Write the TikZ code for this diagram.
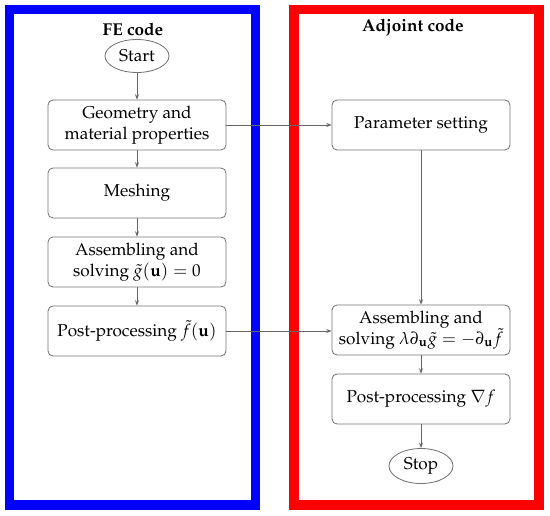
\documentclass[tikz,border=0pt]{standalone}
\usepackage[T1]{fontenc}
\usepackage{mathpazo}
\usetikzlibrary{arrows.meta,shapes.geometric}
\tikzset{
  txt/.style={font=\fontsize{10.3}{12.4}\selectfont},
  proc/.style={txt, draw=black!55, line width=0.5pt, rounded corners=3pt, minimum width=106.8pt, minimum height=30pt, inner sep=1pt, align=center},
  term/.style={txt, draw=black!55, line width=0.5pt, ellipse, minimum width=38.4pt, minimum height=19.8pt, inner sep=0pt},
  conn/.style={draw=black!60, line width=0.45pt, -{Stealth[length=3.2pt,width=2.4pt]}},
  frameA/.style={draw=blue, line width=5.7pt},
  frameB/.style={draw=red, line width=5.7pt}
}
\begin{document}
\begin{tikzpicture}[x=0.6pt,y=-0.6pt]
\useasboundingbox (0,0) rectangle (550,515);
\draw[frameA] (9.5,9.5) rectangle (255.5,505);
\draw[frameB] (294,9.5) rectangle (539,505);
\node[font=\fontsize{10.3}{12.4}\selectfont\bfseries] (t1) at (133,29) {FE code};
\node[font=\fontsize{10.3}{12.4}\selectfont\bfseries] (t2) at (413,27) {Adjoint code};
\node[term] (start) at (137,56) {Start};
\node[proc] (geo) at (137,125) {Geometry and\\material properties};
\node[proc] (mesh) at (137,193) {Meshing};
\node[proc] (asm) at (137,262) {Assembling and\\solving $\tilde{g}(\mathbf{u}) = 0$};
\node[proc] (post) at (137,331) {Post-processing $\tilde{f}(\mathbf{u})$};
\node[proc] (par) at (421,125) {Parameter setting};
\node[proc] (adj) at (421,330) {Assembling and\\solving $\lambda\partial_{\mathbf{u}}\tilde{g} = -\partial_{\mathbf{u}}\tilde{f}$};
\node[proc] (grad) at (421,399) {Post-processing $\nabla f$};
\node[term, minimum height=21pt] (stop) at (421,466) {Stop};
\draw[conn] (start) -- (geo);
\draw[conn] (geo) -- (mesh);
\draw[conn] (mesh) -- (asm);
\draw[conn] (asm) -- (post);
\draw[conn] (geo) -- (par);
\draw[conn] (post.east) -- (adj.west |- post.east);
\draw[conn] (par) -- (adj);
\draw[conn] (adj) -- (grad);
\draw[conn] (grad) -- (stop);
\end{tikzpicture}
\end{document}
